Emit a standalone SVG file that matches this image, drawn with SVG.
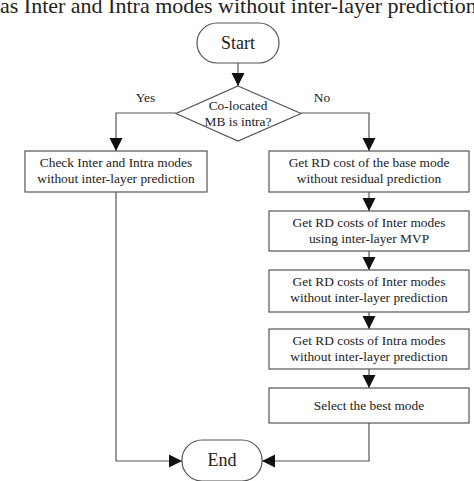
<svg xmlns="http://www.w3.org/2000/svg" width="474" height="481" viewBox="0 0 474 481">
<defs>
<marker id="ah" markerUnits="userSpaceOnUse" markerWidth="14" markerHeight="14" refX="13" refY="7" orient="auto">
<path d="M0,0.5 L13,7 L0,13.5 z" fill="#111"/>
</marker>
<style>
.t{font-family:"Liberation Serif","Times New Roman",serif;fill:#222;text-anchor:middle}
.s{font-size:13.4px}
.b{font-size:18px}
.shape{fill:#fff;stroke:#555;stroke-width:1.2}
.c{fill:none;stroke:#555;stroke-width:1.2}
</style>
</defs>
<rect width="474" height="481" fill="#fff"/>
<text x="0" y="13" font-family="Liberation Serif, serif" font-size="22" fill="#222">as Inter and Intra modes without inter-layer prediction</text>
<g id="connectors">
<path class="c" d="M238,63 V86" marker-end="url(#ah)"/>
<path class="c" d="M176,113 H116 V151" marker-end="url(#ah)"/>
<path class="c" d="M301,113 H369 V151" marker-end="url(#ah)"/>
<path class="c" d="M369,192 V211" marker-end="url(#ah)"/>
<path class="c" d="M369,251 V270" marker-end="url(#ah)"/>
<path class="c" d="M369,312 V329" marker-end="url(#ah)"/>
<path class="c" d="M369,369 V388" marker-end="url(#ah)"/>
<path class="c" d="M369,423 V461 H262" marker-end="url(#ah)"/>
<path class="c" d="M116,192 V461 H182" marker-end="url(#ah)"/>
<text class="t s" x="145.5" y="102">Yes</text>
<text class="t s" x="322" y="102">No</text>
</g>
<g id="start">
<rect class="shape" x="197" y="23" width="82" height="40" rx="20" ry="20"/>
<text class="t b" x="238" y="49">Start</text>
</g>
<g id="decision">
<polygon class="shape" points="238,86 301,113.5 238,141 176,113.5"/>
<text class="t s" x="238" y="110">Co-located</text>
<text class="t s" x="238" y="125.5">MB is intra?</text>
</g>
<g id="check">
<rect class="shape" x="25" y="151" width="182" height="41"/>
<text class="t s" x="116" y="167">Check Inter and Intra modes</text>
<text class="t s" x="116" y="183">without inter-layer prediction</text>
</g>
<g id="base">
<rect class="shape" x="269" y="151" width="200" height="41"/>
<text class="t s" x="369" y="167">Get RD cost of the base mode</text>
<text class="t s" x="369" y="183">without residual prediction</text>
</g>
<g id="interMVP">
<rect class="shape" x="269" y="211" width="200" height="40"/>
<text class="t s" x="369" y="227">Get RD costs of Inter modes</text>
<text class="t s" x="369" y="243">using inter-layer MVP</text>
</g>
<g id="inter">
<rect class="shape" x="269" y="270" width="200" height="42"/>
<text class="t s" x="369" y="286">Get RD costs of Inter modes</text>
<text class="t s" x="369" y="302">without inter-layer prediction</text>
</g>
<g id="intra">
<rect class="shape" x="269" y="329" width="200" height="40"/>
<text class="t s" x="369" y="345">Get RD costs of Intra modes</text>
<text class="t s" x="369" y="361">without inter-layer prediction</text>
</g>
<g id="select">
<rect class="shape" x="269" y="388" width="200" height="35"/>
<text class="t s" x="369" y="410">Select the best mode</text>
</g>
<g id="end">
<rect class="shape" x="182" y="440" width="80" height="41" rx="20" ry="20"/>
<text class="t b" x="222" y="466">End</text>
</g>
</svg>
